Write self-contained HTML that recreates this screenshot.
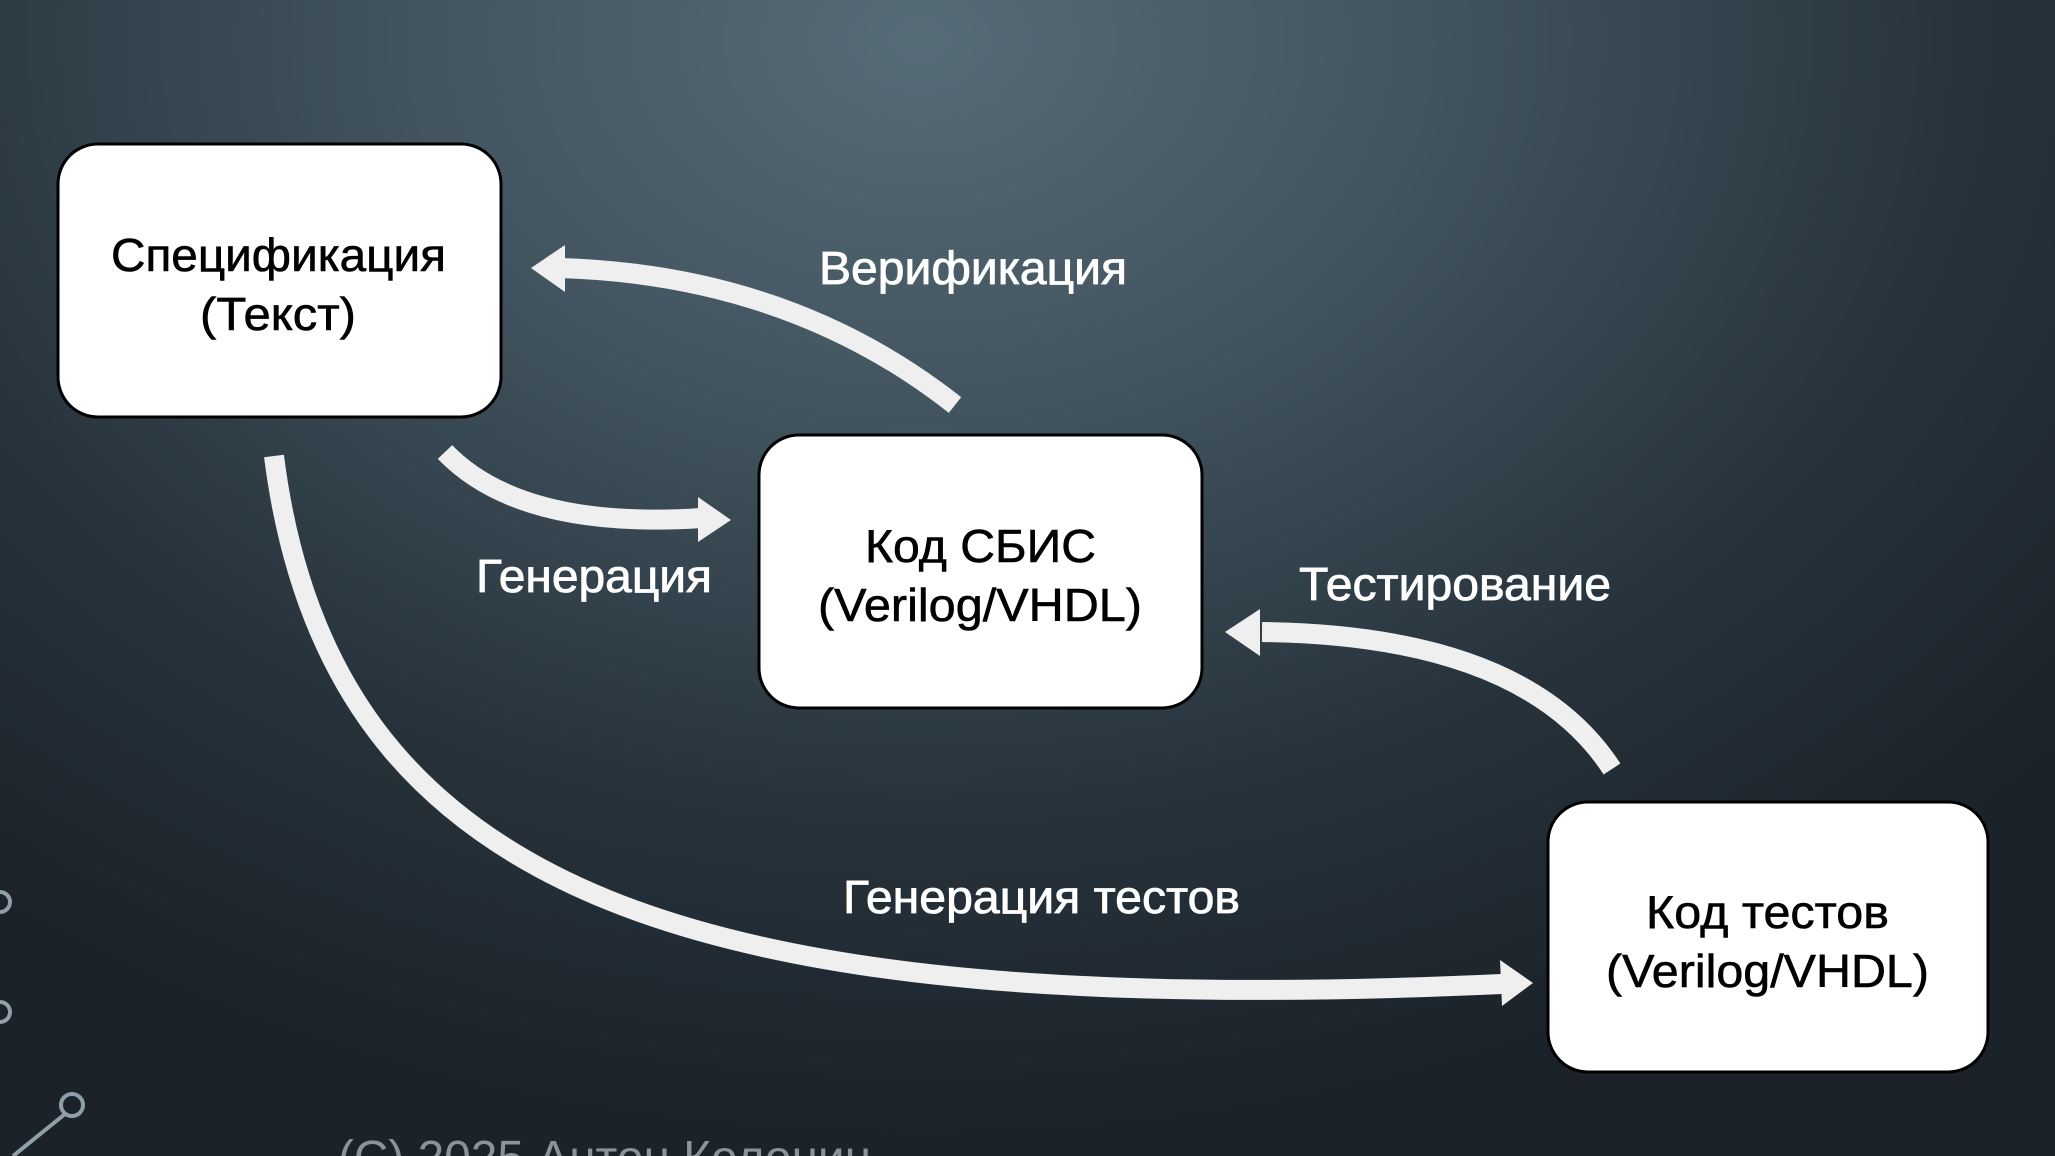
<!DOCTYPE html>
<html><head><meta charset="utf-8"><style>
html,body{margin:0;padding:0}
body{width:2055px;height:1156px;overflow:hidden;background:radial-gradient(ellipse 1500px 1100px at 920px 40px,#566c77 0%,#41535e 35%,#27333c 70%,#1b2229 100%);}
svg{position:absolute;left:0;top:0}
text{font-family:"Liberation Sans",sans-serif;}
</style></head><body>
<svg width="2055" height="1156" viewBox="0 0 2055 1156">
<g fill="#fff" stroke="#000" stroke-width="3">
<rect x="58" y="144" width="443" height="273" rx="40"/>
<rect x="759" y="435" width="443" height="273" rx="40"/>
<rect x="1548" y="802" width="440" height="270" rx="40"/>
</g>
<g fill="none" stroke="#efefef" stroke-width="20">
<path d="M955,405 Q790,275 560,268"/>
<path d="M445,452 Q520,530 702,518"/>
<path d="M274,456 C330,900 700,1020 1502,984"/>
<path d="M1612,769 Q1525,635 1262,632"/>
</g>
<g fill="#efefef">
<polygon points="531,268 565,245 565,292"/>
<polygon points="731,520 698,497 698,542"/>
<polygon points="1533,983 1500,960 1502,1006"/>
<polygon points="1225,632 1260,609 1260,656"/>
</g>
<g font-size="46" fill="#000" stroke="#000" stroke-width="0.6">
<text x="111" y="271" textLength="335" lengthAdjust="spacingAndGlyphs">Спецификация</text>
<text x="200" y="330" textLength="156" lengthAdjust="spacingAndGlyphs">(Текст)</text>
<text x="865" y="562" textLength="231" lengthAdjust="spacingAndGlyphs">Код СБИС</text>
<text x="818" y="621" textLength="324" lengthAdjust="spacingAndGlyphs">(Verilog/VHDL)</text>
<text x="1646" y="928" textLength="243" lengthAdjust="spacingAndGlyphs">Код тестов</text>
<text x="1606" y="987" textLength="323" lengthAdjust="spacingAndGlyphs">(Verilog/VHDL)</text>
</g>
<g font-size="46" fill="#fff" stroke="#fff" stroke-width="0.8">
<text x="819" y="284" textLength="308" lengthAdjust="spacingAndGlyphs">Верификация</text>
<text x="476" y="592" textLength="236" lengthAdjust="spacingAndGlyphs">Генерация</text>
<text x="1299" y="600" textLength="312" lengthAdjust="spacingAndGlyphs">Тестирование</text>
<text x="843" y="913" textLength="397" lengthAdjust="spacingAndGlyphs">Генерация тестов</text>
</g>
<text x="338" y="1174" font-size="48" fill="#8a9399" textLength="533" lengthAdjust="spacingAndGlyphs">(C) 2025 Антон Колонин</text>
<g fill="none" stroke="#8fa0aa" stroke-width="4">
<circle cx="72" cy="1105" r="11"/>
<line x1="65" y1="1114" x2="13" y2="1156"/>
<circle cx="0" cy="902" r="10"/>
<circle cx="0" cy="1012" r="10"/>
</g>
</svg>
</body></html>
